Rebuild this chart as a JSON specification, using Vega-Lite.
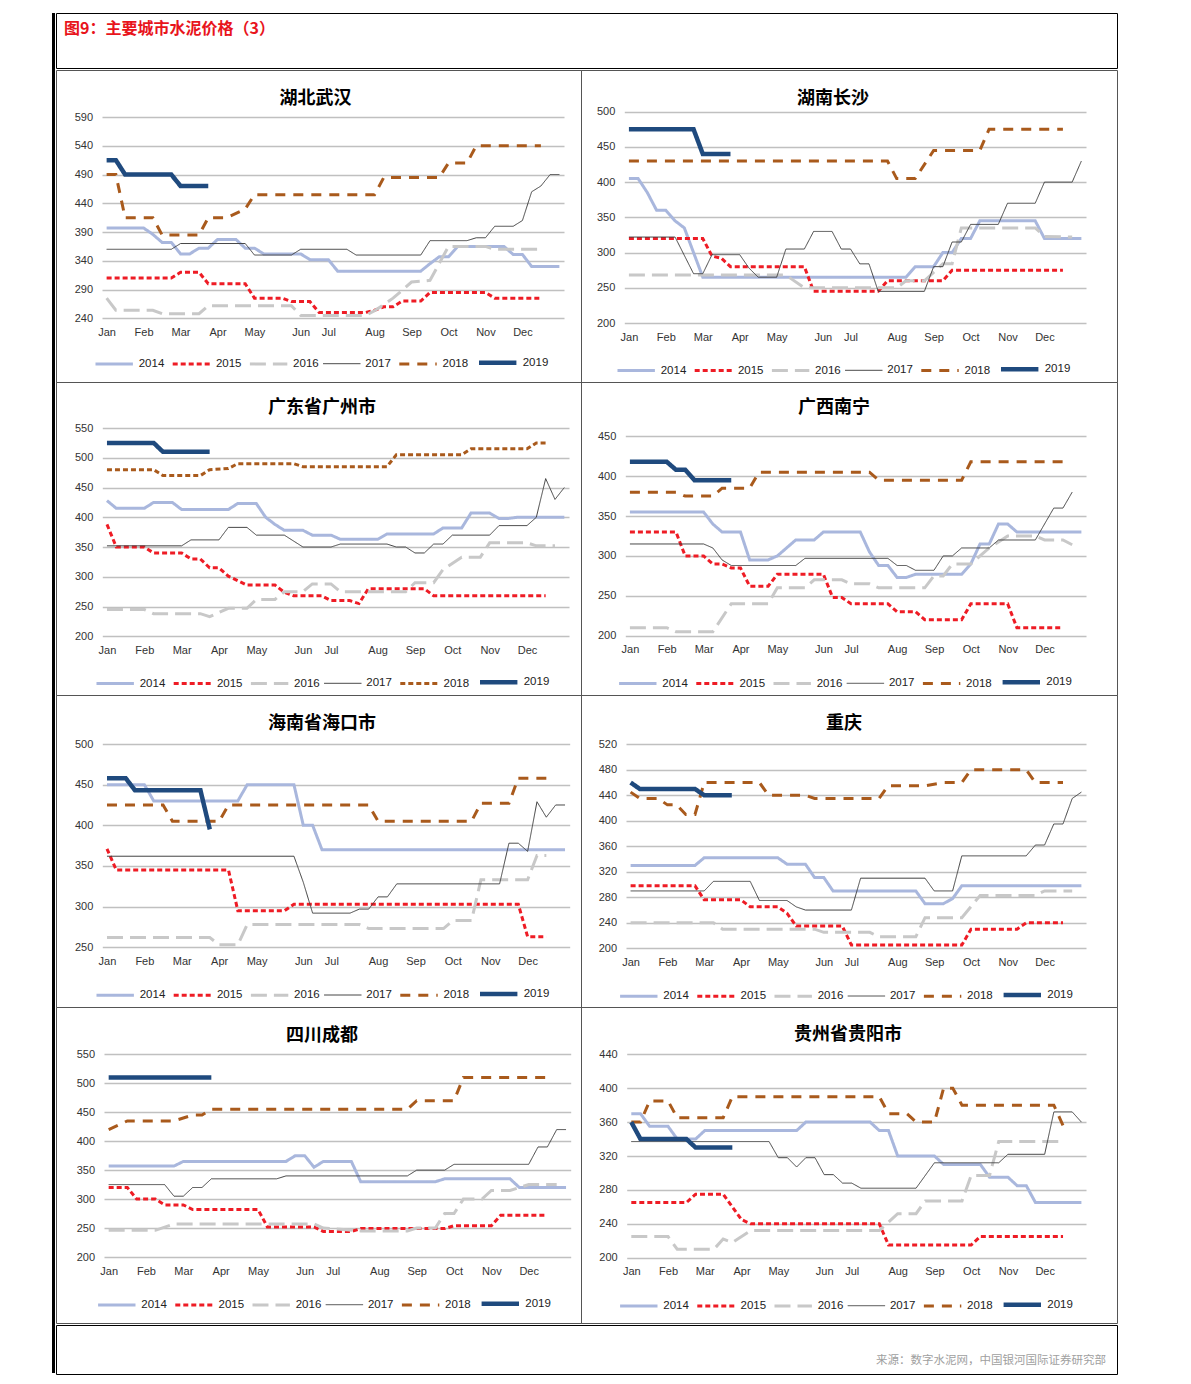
{
  "$schema": "https://vega.github.io/schema/vega-lite/v6.json",
  "padding": {"left": 52, "top": 12, "right": 0, "bottom": 0},
  "background": "#ffffff",
  "config": {
    "view": {"stroke": "#555555", "strokeWidth": 1},
    "concat": {"spacing": 0},
    "axis": {"labelFont": "Liberation Sans", "labelFontSize": 11, "labelColor": "#333333", "ticks": false, "tickSize": 0, "domain": false, "gridColor": "#C0C0C0", "gridWidth": 1.3},
    "legend": {"labelFont": "Liberation Sans", "labelFontSize": 11.5, "labelColor": "#222222", "symbolType": "stroke", "symbolSize": 1400, "columnPadding": 1.2, "labelOffset": 4, "direction": "horizontal", "orient": "none"},
    "title": {"font": "Noto Sans CJK SC", "fontSize": 18, "fontWeight": "bold", "color": "#000000", "anchor": "middle", "baseline": "middle"},
    "line": {"strokeCap": "butt"}
  },
  "datasets": {
    "prices": [
      {"city":"wh","year":"2014","wk":0,"price":397},{"city":"wh","year":"2014","wk":4,"price":397},{"city":"wh","year":"2014","wk":5,"price":386},{"city":"wh","year":"2014","wk":6,"price":372},{"city":"wh","year":"2014","wk":7,"price":372},{"city":"wh","year":"2014","wk":8,"price":352},{"city":"wh","year":"2014","wk":9,"price":352},{"city":"wh","year":"2014","wk":10,"price":362},{"city":"wh","year":"2014","wk":11,"price":362},{"city":"wh","year":"2014","wk":12,"price":377},{"city":"wh","year":"2014","wk":14,"price":377},{"city":"wh","year":"2014","wk":15,"price":362},{"city":"wh","year":"2014","wk":16,"price":362},{"city":"wh","year":"2014","wk":17,"price":352},{"city":"wh","year":"2014","wk":21,"price":352},{"city":"wh","year":"2014","wk":22,"price":342},{"city":"wh","year":"2014","wk":24,"price":342},{"city":"wh","year":"2014","wk":25,"price":322},{"city":"wh","year":"2014","wk":34,"price":322},{"city":"wh","year":"2014","wk":35,"price":335},{"city":"wh","year":"2014","wk":36,"price":347},{"city":"wh","year":"2014","wk":37,"price":347},{"city":"wh","year":"2014","wk":38,"price":365},{"city":"wh","year":"2014","wk":43,"price":365},{"city":"wh","year":"2014","wk":44,"price":351},{"city":"wh","year":"2014","wk":45,"price":351},{"city":"wh","year":"2014","wk":46,"price":330},{"city":"wh","year":"2014","wk":49,"price":330},
      {"city":"wh","year":"2015","wk":0,"price":310},{"city":"wh","year":"2015","wk":7,"price":310},{"city":"wh","year":"2015","wk":8,"price":320},{"city":"wh","year":"2015","wk":10,"price":320},{"city":"wh","year":"2015","wk":11,"price":300},{"city":"wh","year":"2015","wk":15,"price":300},{"city":"wh","year":"2015","wk":16,"price":275},{"city":"wh","year":"2015","wk":19,"price":275},{"city":"wh","year":"2015","wk":20,"price":269},{"city":"wh","year":"2015","wk":22,"price":269},{"city":"wh","year":"2015","wk":23,"price":250},{"city":"wh","year":"2015","wk":28,"price":250},{"city":"wh","year":"2015","wk":29,"price":254},{"city":"wh","year":"2015","wk":30,"price":260},{"city":"wh","year":"2015","wk":31,"price":260},{"city":"wh","year":"2015","wk":32,"price":270},{"city":"wh","year":"2015","wk":34,"price":270},{"city":"wh","year":"2015","wk":35,"price":285},{"city":"wh","year":"2015","wk":41,"price":285},{"city":"wh","year":"2015","wk":42,"price":275},{"city":"wh","year":"2015","wk":47,"price":275},
      {"city":"wh","year":"2016","wk":0,"price":275},{"city":"wh","year":"2016","wk":1,"price":254},{"city":"wh","year":"2016","wk":5,"price":254},{"city":"wh","year":"2016","wk":6,"price":248},{"city":"wh","year":"2016","wk":10,"price":248},{"city":"wh","year":"2016","wk":11,"price":262},{"city":"wh","year":"2016","wk":20,"price":262},{"city":"wh","year":"2016","wk":21,"price":245},{"city":"wh","year":"2016","wk":28,"price":245},{"city":"wh","year":"2016","wk":29,"price":253},{"city":"wh","year":"2016","wk":30,"price":264},{"city":"wh","year":"2016","wk":31,"price":275},{"city":"wh","year":"2016","wk":33,"price":303},{"city":"wh","year":"2016","wk":35,"price":306},{"city":"wh","year":"2016","wk":37,"price":365},{"city":"wh","year":"2016","wk":41,"price":365},{"city":"wh","year":"2016","wk":42,"price":360},{"city":"wh","year":"2016","wk":47,"price":360},
      {"city":"wh","year":"2017","wk":0,"price":360},{"city":"wh","year":"2017","wk":7,"price":360},{"city":"wh","year":"2017","wk":8,"price":370},{"city":"wh","year":"2017","wk":15,"price":370},{"city":"wh","year":"2017","wk":16,"price":350},{"city":"wh","year":"2017","wk":20,"price":350},{"city":"wh","year":"2017","wk":21,"price":360},{"city":"wh","year":"2017","wk":26,"price":360},{"city":"wh","year":"2017","wk":27,"price":350},{"city":"wh","year":"2017","wk":34,"price":350},{"city":"wh","year":"2017","wk":35,"price":375},{"city":"wh","year":"2017","wk":39,"price":375},{"city":"wh","year":"2017","wk":40,"price":380},{"city":"wh","year":"2017","wk":41,"price":380},{"city":"wh","year":"2017","wk":42,"price":400},{"city":"wh","year":"2017","wk":44,"price":400},{"city":"wh","year":"2017","wk":45,"price":410},{"city":"wh","year":"2017","wk":46,"price":460},{"city":"wh","year":"2017","wk":47,"price":470},{"city":"wh","year":"2017","wk":48,"price":490},{"city":"wh","year":"2017","wk":49,"price":490},
      {"city":"wh","year":"2018","wk":0,"price":490},{"city":"wh","year":"2018","wk":1,"price":490},{"city":"wh","year":"2018","wk":2,"price":415},{"city":"wh","year":"2018","wk":5,"price":415},{"city":"wh","year":"2018","wk":6,"price":385},{"city":"wh","year":"2018","wk":10,"price":385},{"city":"wh","year":"2018","wk":11,"price":415},{"city":"wh","year":"2018","wk":13,"price":415},{"city":"wh","year":"2018","wk":15,"price":430},{"city":"wh","year":"2018","wk":16,"price":455},{"city":"wh","year":"2018","wk":29,"price":455},{"city":"wh","year":"2018","wk":30,"price":485},{"city":"wh","year":"2018","wk":36,"price":485},{"city":"wh","year":"2018","wk":37,"price":510},{"city":"wh","year":"2018","wk":39,"price":510},{"city":"wh","year":"2018","wk":40,"price":540},{"city":"wh","year":"2018","wk":47,"price":540},
      {"city":"wh","year":"2019","wk":0,"price":515},{"city":"wh","year":"2019","wk":1,"price":515},{"city":"wh","year":"2019","wk":2,"price":490},{"city":"wh","year":"2019","wk":7,"price":490},{"city":"wh","year":"2019","wk":8,"price":470},{"city":"wh","year":"2019","wk":11,"price":470},

      {"city":"cs","year":"2014","wk":0,"price":405},{"city":"cs","year":"2014","wk":1,"price":405},{"city":"cs","year":"2014","wk":2,"price":385},{"city":"cs","year":"2014","wk":3,"price":360},{"city":"cs","year":"2014","wk":4,"price":360},{"city":"cs","year":"2014","wk":5,"price":345},{"city":"cs","year":"2014","wk":6,"price":335},{"city":"cs","year":"2014","wk":7,"price":300},{"city":"cs","year":"2014","wk":8,"price":265},{"city":"cs","year":"2014","wk":30,"price":265},{"city":"cs","year":"2014","wk":31,"price":280},{"city":"cs","year":"2014","wk":33,"price":280},{"city":"cs","year":"2014","wk":34,"price":300},{"city":"cs","year":"2014","wk":35,"price":300},{"city":"cs","year":"2014","wk":36,"price":320},{"city":"cs","year":"2014","wk":37,"price":320},{"city":"cs","year":"2014","wk":38,"price":345},{"city":"cs","year":"2014","wk":44,"price":345},{"city":"cs","year":"2014","wk":45,"price":320},{"city":"cs","year":"2014","wk":49,"price":320},
      {"city":"cs","year":"2015","wk":0,"price":320},{"city":"cs","year":"2015","wk":8,"price":320},{"city":"cs","year":"2015","wk":9,"price":295},{"city":"cs","year":"2015","wk":10,"price":292},{"city":"cs","year":"2015","wk":11,"price":280},{"city":"cs","year":"2015","wk":19,"price":280},{"city":"cs","year":"2015","wk":20,"price":245},{"city":"cs","year":"2015","wk":27,"price":245},{"city":"cs","year":"2015","wk":28,"price":260},{"city":"cs","year":"2015","wk":34,"price":260},{"city":"cs","year":"2015","wk":35,"price":275},{"city":"cs","year":"2015","wk":47,"price":275},
      {"city":"cs","year":"2016","wk":0,"price":268},{"city":"cs","year":"2016","wk":17,"price":268},{"city":"cs","year":"2016","wk":19,"price":250},{"city":"cs","year":"2016","wk":29,"price":250},{"city":"cs","year":"2016","wk":30,"price":260},{"city":"cs","year":"2016","wk":32,"price":260},{"city":"cs","year":"2016","wk":34,"price":284},{"city":"cs","year":"2016","wk":35,"price":284},{"city":"cs","year":"2016","wk":36,"price":335},{"city":"cs","year":"2016","wk":44,"price":335},{"city":"cs","year":"2016","wk":45,"price":323},{"city":"cs","year":"2016","wk":48,"price":322},
      {"city":"cs","year":"2017","wk":0,"price":322},{"city":"cs","year":"2017","wk":5,"price":322},{"city":"cs","year":"2017","wk":7,"price":270},{"city":"cs","year":"2017","wk":8,"price":270},{"city":"cs","year":"2017","wk":9,"price":297},{"city":"cs","year":"2017","wk":12,"price":297},{"city":"cs","year":"2017","wk":13,"price":278},{"city":"cs","year":"2017","wk":14,"price":265},{"city":"cs","year":"2017","wk":16,"price":265},{"city":"cs","year":"2017","wk":17,"price":305},{"city":"cs","year":"2017","wk":19,"price":305},{"city":"cs","year":"2017","wk":20,"price":330},{"city":"cs","year":"2017","wk":22,"price":330},{"city":"cs","year":"2017","wk":23,"price":305},{"city":"cs","year":"2017","wk":24,"price":305},{"city":"cs","year":"2017","wk":25,"price":284},{"city":"cs","year":"2017","wk":26,"price":284},{"city":"cs","year":"2017","wk":27,"price":245},{"city":"cs","year":"2017","wk":32,"price":245},{"city":"cs","year":"2017","wk":33,"price":280},{"city":"cs","year":"2017","wk":34,"price":280},{"city":"cs","year":"2017","wk":35,"price":315},{"city":"cs","year":"2017","wk":36,"price":315},{"city":"cs","year":"2017","wk":37,"price":340},{"city":"cs","year":"2017","wk":40,"price":340},{"city":"cs","year":"2017","wk":41,"price":370},{"city":"cs","year":"2017","wk":44,"price":370},{"city":"cs","year":"2017","wk":45,"price":400},{"city":"cs","year":"2017","wk":48,"price":400},{"city":"cs","year":"2017","wk":49,"price":430},
      {"city":"cs","year":"2018","wk":0,"price":430},{"city":"cs","year":"2018","wk":28,"price":430},{"city":"cs","year":"2018","wk":29,"price":405},{"city":"cs","year":"2018","wk":31,"price":405},{"city":"cs","year":"2018","wk":33,"price":445},{"city":"cs","year":"2018","wk":38,"price":445},{"city":"cs","year":"2018","wk":39,"price":475},{"city":"cs","year":"2018","wk":47,"price":475},
      {"city":"cs","year":"2019","wk":0,"price":475},{"city":"cs","year":"2019","wk":7,"price":475},{"city":"cs","year":"2019","wk":8,"price":440},{"city":"cs","year":"2019","wk":11,"price":440},

      {"city":"gz","year":"2014","wk":0,"price":428},{"city":"gz","year":"2014","wk":1,"price":415},{"city":"gz","year":"2014","wk":4,"price":415},{"city":"gz","year":"2014","wk":5,"price":425},{"city":"gz","year":"2014","wk":7,"price":425},{"city":"gz","year":"2014","wk":8,"price":413},{"city":"gz","year":"2014","wk":13,"price":413},{"city":"gz","year":"2014","wk":14,"price":423},{"city":"gz","year":"2014","wk":16,"price":423},{"city":"gz","year":"2014","wk":17,"price":400},{"city":"gz","year":"2014","wk":18,"price":388},{"city":"gz","year":"2014","wk":19,"price":378},{"city":"gz","year":"2014","wk":21,"price":378},{"city":"gz","year":"2014","wk":22,"price":370},{"city":"gz","year":"2014","wk":24,"price":370},{"city":"gz","year":"2014","wk":25,"price":363},{"city":"gz","year":"2014","wk":29,"price":363},{"city":"gz","year":"2014","wk":30,"price":372},{"city":"gz","year":"2014","wk":35,"price":372},{"city":"gz","year":"2014","wk":36,"price":382},{"city":"gz","year":"2014","wk":38,"price":382},{"city":"gz","year":"2014","wk":39,"price":407},{"city":"gz","year":"2014","wk":41,"price":407},{"city":"gz","year":"2014","wk":42,"price":398},{"city":"gz","year":"2014","wk":43,"price":398},{"city":"gz","year":"2014","wk":44,"price":400},{"city":"gz","year":"2014","wk":49,"price":400},
      {"city":"gz","year":"2015","wk":0,"price":388},{"city":"gz","year":"2015","wk":1,"price":350},{"city":"gz","year":"2015","wk":4,"price":350},{"city":"gz","year":"2015","wk":5,"price":340},{"city":"gz","year":"2015","wk":8,"price":340},{"city":"gz","year":"2015","wk":9,"price":330},{"city":"gz","year":"2015","wk":10,"price":330},{"city":"gz","year":"2015","wk":11,"price":315},{"city":"gz","year":"2015","wk":12,"price":315},{"city":"gz","year":"2015","wk":13,"price":301},{"city":"gz","year":"2015","wk":15,"price":286},{"city":"gz","year":"2015","wk":18,"price":286},{"city":"gz","year":"2015","wk":19,"price":274},{"city":"gz","year":"2015","wk":20,"price":268},{"city":"gz","year":"2015","wk":23,"price":268},{"city":"gz","year":"2015","wk":24,"price":260},{"city":"gz","year":"2015","wk":26,"price":260},{"city":"gz","year":"2015","wk":27,"price":255},{"city":"gz","year":"2015","wk":28,"price":280},{"city":"gz","year":"2015","wk":34,"price":280},{"city":"gz","year":"2015","wk":35,"price":268},{"city":"gz","year":"2015","wk":47,"price":268},
      {"city":"gz","year":"2016","wk":0,"price":245},{"city":"gz","year":"2016","wk":4,"price":245},{"city":"gz","year":"2016","wk":5,"price":238},{"city":"gz","year":"2016","wk":10,"price":238},{"city":"gz","year":"2016","wk":11,"price":233},{"city":"gz","year":"2016","wk":13,"price":247},{"city":"gz","year":"2016","wk":15,"price":247},{"city":"gz","year":"2016","wk":16,"price":262},{"city":"gz","year":"2016","wk":18,"price":262},{"city":"gz","year":"2016","wk":19,"price":275},{"city":"gz","year":"2016","wk":21,"price":275},{"city":"gz","year":"2016","wk":22,"price":288},{"city":"gz","year":"2016","wk":24,"price":288},{"city":"gz","year":"2016","wk":25,"price":275},{"city":"gz","year":"2016","wk":32,"price":275},{"city":"gz","year":"2016","wk":33,"price":290},{"city":"gz","year":"2016","wk":35,"price":290},{"city":"gz","year":"2016","wk":36,"price":312},{"city":"gz","year":"2016","wk":38,"price":333},{"city":"gz","year":"2016","wk":40,"price":333},{"city":"gz","year":"2016","wk":41,"price":357},{"city":"gz","year":"2016","wk":45,"price":357},{"city":"gz","year":"2016","wk":46,"price":352},{"city":"gz","year":"2016","wk":48,"price":352},
      {"city":"gz","year":"2017","wk":0,"price":352},{"city":"gz","year":"2017","wk":8,"price":352},{"city":"gz","year":"2017","wk":9,"price":362},{"city":"gz","year":"2017","wk":12,"price":362},{"city":"gz","year":"2017","wk":13,"price":383},{"city":"gz","year":"2017","wk":15,"price":383},{"city":"gz","year":"2017","wk":16,"price":370},{"city":"gz","year":"2017","wk":19,"price":370},{"city":"gz","year":"2017","wk":21,"price":350},{"city":"gz","year":"2017","wk":24,"price":350},{"city":"gz","year":"2017","wk":25,"price":355},{"city":"gz","year":"2017","wk":30,"price":355},{"city":"gz","year":"2017","wk":31,"price":350},{"city":"gz","year":"2017","wk":32,"price":350},{"city":"gz","year":"2017","wk":33,"price":340},{"city":"gz","year":"2017","wk":34,"price":340},{"city":"gz","year":"2017","wk":35,"price":355},{"city":"gz","year":"2017","wk":36,"price":355},{"city":"gz","year":"2017","wk":37,"price":370},{"city":"gz","year":"2017","wk":41,"price":370},{"city":"gz","year":"2017","wk":42,"price":386},{"city":"gz","year":"2017","wk":45,"price":386},{"city":"gz","year":"2017","wk":46,"price":400},{"city":"gz","year":"2017","wk":47,"price":465},{"city":"gz","year":"2017","wk":48,"price":430},{"city":"gz","year":"2017","wk":49,"price":450},
      {"city":"gz","year":"2018","wk":0,"price":480},{"city":"gz","year":"2018","wk":5,"price":480},{"city":"gz","year":"2018","wk":6,"price":470},{"city":"gz","year":"2018","wk":10,"price":470},{"city":"gz","year":"2018","wk":11,"price":480},{"city":"gz","year":"2018","wk":13,"price":482},{"city":"gz","year":"2018","wk":14,"price":490},{"city":"gz","year":"2018","wk":20,"price":490},{"city":"gz","year":"2018","wk":21,"price":485},{"city":"gz","year":"2018","wk":30,"price":485},{"city":"gz","year":"2018","wk":31,"price":505},{"city":"gz","year":"2018","wk":38,"price":505},{"city":"gz","year":"2018","wk":39,"price":515},{"city":"gz","year":"2018","wk":45,"price":515},{"city":"gz","year":"2018","wk":46,"price":525},{"city":"gz","year":"2018","wk":47,"price":525},
      {"city":"gz","year":"2019","wk":0,"price":525},{"city":"gz","year":"2019","wk":5,"price":525},{"city":"gz","year":"2019","wk":6,"price":510},{"city":"gz","year":"2019","wk":11,"price":510},

      {"city":"nn","year":"2014","wk":0,"price":355},{"city":"nn","year":"2014","wk":8,"price":355},{"city":"nn","year":"2014","wk":9,"price":340},{"city":"nn","year":"2014","wk":10,"price":330},{"city":"nn","year":"2014","wk":12,"price":330},{"city":"nn","year":"2014","wk":13,"price":295},{"city":"nn","year":"2014","wk":15,"price":295},{"city":"nn","year":"2014","wk":16,"price":300},{"city":"nn","year":"2014","wk":17,"price":310},{"city":"nn","year":"2014","wk":18,"price":320},{"city":"nn","year":"2014","wk":20,"price":320},{"city":"nn","year":"2014","wk":21,"price":330},{"city":"nn","year":"2014","wk":25,"price":330},{"city":"nn","year":"2014","wk":26,"price":305},{"city":"nn","year":"2014","wk":27,"price":288},{"city":"nn","year":"2014","wk":28,"price":288},{"city":"nn","year":"2014","wk":29,"price":273},{"city":"nn","year":"2014","wk":30,"price":273},{"city":"nn","year":"2014","wk":31,"price":277},{"city":"nn","year":"2014","wk":36,"price":277},{"city":"nn","year":"2014","wk":37,"price":290},{"city":"nn","year":"2014","wk":38,"price":315},{"city":"nn","year":"2014","wk":39,"price":315},{"city":"nn","year":"2014","wk":40,"price":340},{"city":"nn","year":"2014","wk":41,"price":340},{"city":"nn","year":"2014","wk":42,"price":330},{"city":"nn","year":"2014","wk":49,"price":330},
      {"city":"nn","year":"2015","wk":0,"price":330},{"city":"nn","year":"2015","wk":5,"price":330},{"city":"nn","year":"2015","wk":6,"price":300},{"city":"nn","year":"2015","wk":8,"price":300},{"city":"nn","year":"2015","wk":9,"price":290},{"city":"nn","year":"2015","wk":10,"price":290},{"city":"nn","year":"2015","wk":11,"price":285},{"city":"nn","year":"2015","wk":12,"price":285},{"city":"nn","year":"2015","wk":13,"price":262},{"city":"nn","year":"2015","wk":15,"price":262},{"city":"nn","year":"2015","wk":16,"price":277},{"city":"nn","year":"2015","wk":21,"price":277},{"city":"nn","year":"2015","wk":22,"price":248},{"city":"nn","year":"2015","wk":23,"price":248},{"city":"nn","year":"2015","wk":24,"price":240},{"city":"nn","year":"2015","wk":28,"price":240},{"city":"nn","year":"2015","wk":29,"price":230},{"city":"nn","year":"2015","wk":31,"price":230},{"city":"nn","year":"2015","wk":32,"price":220},{"city":"nn","year":"2015","wk":36,"price":220},{"city":"nn","year":"2015","wk":37,"price":240},{"city":"nn","year":"2015","wk":41,"price":240},{"city":"nn","year":"2015","wk":42,"price":210},{"city":"nn","year":"2015","wk":47,"price":210},
      {"city":"nn","year":"2016","wk":0,"price":210},{"city":"nn","year":"2016","wk":4,"price":210},{"city":"nn","year":"2016","wk":5,"price":205},{"city":"nn","year":"2016","wk":9,"price":205},{"city":"nn","year":"2016","wk":11,"price":240},{"city":"nn","year":"2016","wk":15,"price":240},{"city":"nn","year":"2016","wk":16,"price":260},{"city":"nn","year":"2016","wk":19,"price":260},{"city":"nn","year":"2016","wk":20,"price":270},{"city":"nn","year":"2016","wk":23,"price":270},{"city":"nn","year":"2016","wk":24,"price":265},{"city":"nn","year":"2016","wk":26,"price":265},{"city":"nn","year":"2016","wk":27,"price":260},{"city":"nn","year":"2016","wk":32,"price":260},{"city":"nn","year":"2016","wk":33,"price":275},{"city":"nn","year":"2016","wk":34,"price":275},{"city":"nn","year":"2016","wk":35,"price":290},{"city":"nn","year":"2016","wk":37,"price":290},{"city":"nn","year":"2016","wk":38,"price":300},{"city":"nn","year":"2016","wk":39,"price":310},{"city":"nn","year":"2016","wk":41,"price":325},{"city":"nn","year":"2016","wk":44,"price":325},{"city":"nn","year":"2016","wk":45,"price":320},{"city":"nn","year":"2016","wk":47,"price":320},{"city":"nn","year":"2016","wk":48,"price":314},
      {"city":"nn","year":"2017","wk":0,"price":315},{"city":"nn","year":"2017","wk":8,"price":315},{"city":"nn","year":"2017","wk":9,"price":310},{"city":"nn","year":"2017","wk":10,"price":295},{"city":"nn","year":"2017","wk":11,"price":288},{"city":"nn","year":"2017","wk":18,"price":288},{"city":"nn","year":"2017","wk":19,"price":297},{"city":"nn","year":"2017","wk":28,"price":297},{"city":"nn","year":"2017","wk":29,"price":288},{"city":"nn","year":"2017","wk":30,"price":288},{"city":"nn","year":"2017","wk":31,"price":282},{"city":"nn","year":"2017","wk":33,"price":282},{"city":"nn","year":"2017","wk":34,"price":300},{"city":"nn","year":"2017","wk":35,"price":300},{"city":"nn","year":"2017","wk":36,"price":310},{"city":"nn","year":"2017","wk":39,"price":310},{"city":"nn","year":"2017","wk":40,"price":320},{"city":"nn","year":"2017","wk":44,"price":320},{"city":"nn","year":"2017","wk":46,"price":360},{"city":"nn","year":"2017","wk":47,"price":360},{"city":"nn","year":"2017","wk":48,"price":380},
      {"city":"nn","year":"2018","wk":0,"price":380},{"city":"nn","year":"2018","wk":5,"price":380},{"city":"nn","year":"2018","wk":6,"price":375},{"city":"nn","year":"2018","wk":9,"price":375},{"city":"nn","year":"2018","wk":10,"price":385},{"city":"nn","year":"2018","wk":13,"price":385},{"city":"nn","year":"2018","wk":14,"price":405},{"city":"nn","year":"2018","wk":26,"price":405},{"city":"nn","year":"2018","wk":27,"price":395},{"city":"nn","year":"2018","wk":36,"price":395},{"city":"nn","year":"2018","wk":37,"price":418},{"city":"nn","year":"2018","wk":47,"price":418},
      {"city":"nn","year":"2019","wk":0,"price":418},{"city":"nn","year":"2019","wk":4,"price":418},{"city":"nn","year":"2019","wk":5,"price":408},{"city":"nn","year":"2019","wk":6,"price":408},{"city":"nn","year":"2019","wk":7,"price":395},{"city":"nn","year":"2019","wk":11,"price":395},

      {"city":"hk","year":"2014","wk":0,"price":450},{"city":"hk","year":"2014","wk":4,"price":450},{"city":"hk","year":"2014","wk":5,"price":430},{"city":"hk","year":"2014","wk":14,"price":430},{"city":"hk","year":"2014","wk":15,"price":450},{"city":"hk","year":"2014","wk":20,"price":450},{"city":"hk","year":"2014","wk":21,"price":400},{"city":"hk","year":"2014","wk":22,"price":400},{"city":"hk","year":"2014","wk":23,"price":370},{"city":"hk","year":"2014","wk":49,"price":370},
      {"city":"hk","year":"2015","wk":0,"price":371},{"city":"hk","year":"2015","wk":1,"price":345},{"city":"hk","year":"2015","wk":13,"price":345},{"city":"hk","year":"2015","wk":14,"price":295},{"city":"hk","year":"2015","wk":19,"price":295},{"city":"hk","year":"2015","wk":20,"price":303},{"city":"hk","year":"2015","wk":44,"price":303},{"city":"hk","year":"2015","wk":45,"price":263},{"city":"hk","year":"2015","wk":47,"price":263},
      {"city":"hk","year":"2016","wk":0,"price":262},{"city":"hk","year":"2016","wk":11,"price":262},{"city":"hk","year":"2016","wk":12,"price":253},{"city":"hk","year":"2016","wk":14,"price":253},{"city":"hk","year":"2016","wk":15,"price":278},{"city":"hk","year":"2016","wk":27,"price":278},{"city":"hk","year":"2016","wk":28,"price":273},{"city":"hk","year":"2016","wk":36,"price":273},{"city":"hk","year":"2016","wk":37,"price":283},{"city":"hk","year":"2016","wk":39,"price":283},{"city":"hk","year":"2016","wk":40,"price":333},{"city":"hk","year":"2016","wk":45,"price":333},{"city":"hk","year":"2016","wk":46,"price":363},{"city":"hk","year":"2016","wk":47,"price":363},
      {"city":"hk","year":"2017","wk":0,"price":362},{"city":"hk","year":"2017","wk":20,"price":362},{"city":"hk","year":"2017","wk":21,"price":330},{"city":"hk","year":"2017","wk":22,"price":292},{"city":"hk","year":"2017","wk":26,"price":292},{"city":"hk","year":"2017","wk":27,"price":297},{"city":"hk","year":"2017","wk":28,"price":297},{"city":"hk","year":"2017","wk":29,"price":312},{"city":"hk","year":"2017","wk":30,"price":312},{"city":"hk","year":"2017","wk":31,"price":328},{"city":"hk","year":"2017","wk":42,"price":328},{"city":"hk","year":"2017","wk":43,"price":378},{"city":"hk","year":"2017","wk":44,"price":378},{"city":"hk","year":"2017","wk":45,"price":368},{"city":"hk","year":"2017","wk":46,"price":429},{"city":"hk","year":"2017","wk":47,"price":410},{"city":"hk","year":"2017","wk":48,"price":425},{"city":"hk","year":"2017","wk":49,"price":425},
      {"city":"hk","year":"2018","wk":0,"price":425},{"city":"hk","year":"2018","wk":6,"price":425},{"city":"hk","year":"2018","wk":7,"price":405},{"city":"hk","year":"2018","wk":12,"price":405},{"city":"hk","year":"2018","wk":13,"price":425},{"city":"hk","year":"2018","wk":28,"price":425},{"city":"hk","year":"2018","wk":29,"price":405},{"city":"hk","year":"2018","wk":39,"price":405},{"city":"hk","year":"2018","wk":40,"price":427},{"city":"hk","year":"2018","wk":43,"price":427},{"city":"hk","year":"2018","wk":44,"price":458},{"city":"hk","year":"2018","wk":47,"price":458},
      {"city":"hk","year":"2019","wk":0,"price":458},{"city":"hk","year":"2019","wk":2,"price":458},{"city":"hk","year":"2019","wk":3,"price":443},{"city":"hk","year":"2019","wk":10,"price":443},{"city":"hk","year":"2019","wk":11,"price":395},

      {"city":"cq","year":"2014","wk":0,"price":330},{"city":"cq","year":"2014","wk":7,"price":330},{"city":"cq","year":"2014","wk":8,"price":342},{"city":"cq","year":"2014","wk":16,"price":342},{"city":"cq","year":"2014","wk":17,"price":332},{"city":"cq","year":"2014","wk":19,"price":332},{"city":"cq","year":"2014","wk":20,"price":311},{"city":"cq","year":"2014","wk":21,"price":311},{"city":"cq","year":"2014","wk":22,"price":290},{"city":"cq","year":"2014","wk":31,"price":290},{"city":"cq","year":"2014","wk":32,"price":270},{"city":"cq","year":"2014","wk":34,"price":270},{"city":"cq","year":"2014","wk":35,"price":278},{"city":"cq","year":"2014","wk":36,"price":298},{"city":"cq","year":"2014","wk":49,"price":298},
      {"city":"cq","year":"2015","wk":0,"price":298},{"city":"cq","year":"2015","wk":7,"price":298},{"city":"cq","year":"2015","wk":8,"price":276},{"city":"cq","year":"2015","wk":12,"price":276},{"city":"cq","year":"2015","wk":13,"price":265},{"city":"cq","year":"2015","wk":16,"price":265},{"city":"cq","year":"2015","wk":17,"price":255},{"city":"cq","year":"2015","wk":18,"price":235},{"city":"cq","year":"2015","wk":23,"price":235},{"city":"cq","year":"2015","wk":24,"price":205},{"city":"cq","year":"2015","wk":36,"price":205},{"city":"cq","year":"2015","wk":37,"price":230},{"city":"cq","year":"2015","wk":42,"price":230},{"city":"cq","year":"2015","wk":43,"price":240},{"city":"cq","year":"2015","wk":47,"price":240},
      {"city":"cq","year":"2016","wk":0,"price":240},{"city":"cq","year":"2016","wk":9,"price":240},{"city":"cq","year":"2016","wk":10,"price":230},{"city":"cq","year":"2016","wk":20,"price":230},{"city":"cq","year":"2016","wk":21,"price":225},{"city":"cq","year":"2016","wk":26,"price":225},{"city":"cq","year":"2016","wk":27,"price":218},{"city":"cq","year":"2016","wk":31,"price":218},{"city":"cq","year":"2016","wk":32,"price":248},{"city":"cq","year":"2016","wk":36,"price":248},{"city":"cq","year":"2016","wk":38,"price":283},{"city":"cq","year":"2016","wk":44,"price":283},{"city":"cq","year":"2016","wk":45,"price":290},{"city":"cq","year":"2016","wk":48,"price":290},
      {"city":"cq","year":"2017","wk":0,"price":290},{"city":"cq","year":"2017","wk":8,"price":290},{"city":"cq","year":"2017","wk":9,"price":305},{"city":"cq","year":"2017","wk":13,"price":305},{"city":"cq","year":"2017","wk":14,"price":275},{"city":"cq","year":"2017","wk":17,"price":275},{"city":"cq","year":"2017","wk":18,"price":265},{"city":"cq","year":"2017","wk":19,"price":260},{"city":"cq","year":"2017","wk":24,"price":260},{"city":"cq","year":"2017","wk":25,"price":310},{"city":"cq","year":"2017","wk":32,"price":310},{"city":"cq","year":"2017","wk":33,"price":290},{"city":"cq","year":"2017","wk":35,"price":290},{"city":"cq","year":"2017","wk":36,"price":345},{"city":"cq","year":"2017","wk":43,"price":345},{"city":"cq","year":"2017","wk":44,"price":362},{"city":"cq","year":"2017","wk":45,"price":362},{"city":"cq","year":"2017","wk":46,"price":395},{"city":"cq","year":"2017","wk":47,"price":395},{"city":"cq","year":"2017","wk":48,"price":435},{"city":"cq","year":"2017","wk":49,"price":445},
      {"city":"cq","year":"2018","wk":0,"price":445},{"city":"cq","year":"2018","wk":1,"price":435},{"city":"cq","year":"2018","wk":3,"price":435},{"city":"cq","year":"2018","wk":4,"price":425},{"city":"cq","year":"2018","wk":5,"price":425},{"city":"cq","year":"2018","wk":6,"price":410},{"city":"cq","year":"2018","wk":7,"price":410},{"city":"cq","year":"2018","wk":8,"price":460},{"city":"cq","year":"2018","wk":14,"price":460},{"city":"cq","year":"2018","wk":15,"price":440},{"city":"cq","year":"2018","wk":19,"price":440},{"city":"cq","year":"2018","wk":20,"price":435},{"city":"cq","year":"2018","wk":27,"price":435},{"city":"cq","year":"2018","wk":28,"price":455},{"city":"cq","year":"2018","wk":32,"price":455},{"city":"cq","year":"2018","wk":34,"price":460},{"city":"cq","year":"2018","wk":36,"price":460},{"city":"cq","year":"2018","wk":37,"price":480},{"city":"cq","year":"2018","wk":43,"price":480},{"city":"cq","year":"2018","wk":44,"price":460},{"city":"cq","year":"2018","wk":47,"price":460},
      {"city":"cq","year":"2019","wk":0,"price":460},{"city":"cq","year":"2019","wk":1,"price":450},{"city":"cq","year":"2019","wk":7,"price":450},{"city":"cq","year":"2019","wk":8,"price":440},{"city":"cq","year":"2019","wk":11,"price":440},

      {"city":"cd","year":"2014","wk":0,"price":357},{"city":"cd","year":"2014","wk":7,"price":357},{"city":"cd","year":"2014","wk":8,"price":365},{"city":"cd","year":"2014","wk":19,"price":365},{"city":"cd","year":"2014","wk":20,"price":375},{"city":"cd","year":"2014","wk":21,"price":375},{"city":"cd","year":"2014","wk":22,"price":355},{"city":"cd","year":"2014","wk":23,"price":365},{"city":"cd","year":"2014","wk":26,"price":365},{"city":"cd","year":"2014","wk":27,"price":330},{"city":"cd","year":"2014","wk":35,"price":330},{"city":"cd","year":"2014","wk":36,"price":335},{"city":"cd","year":"2014","wk":43,"price":335},{"city":"cd","year":"2014","wk":44,"price":320},{"city":"cd","year":"2014","wk":49,"price":320},
      {"city":"cd","year":"2015","wk":0,"price":320},{"city":"cd","year":"2015","wk":2,"price":320},{"city":"cd","year":"2015","wk":3,"price":300},{"city":"cd","year":"2015","wk":5,"price":300},{"city":"cd","year":"2015","wk":6,"price":290},{"city":"cd","year":"2015","wk":8,"price":290},{"city":"cd","year":"2015","wk":9,"price":282},{"city":"cd","year":"2015","wk":16,"price":282},{"city":"cd","year":"2015","wk":17,"price":252},{"city":"cd","year":"2015","wk":22,"price":252},{"city":"cd","year":"2015","wk":23,"price":244},{"city":"cd","year":"2015","wk":26,"price":244},{"city":"cd","year":"2015","wk":27,"price":249},{"city":"cd","year":"2015","wk":36,"price":249},{"city":"cd","year":"2015","wk":37,"price":254},{"city":"cd","year":"2015","wk":41,"price":254},{"city":"cd","year":"2015","wk":42,"price":272},{"city":"cd","year":"2015","wk":47,"price":272},
      {"city":"cd","year":"2016","wk":0,"price":246},{"city":"cd","year":"2016","wk":5,"price":246},{"city":"cd","year":"2016","wk":7,"price":257},{"city":"cd","year":"2016","wk":22,"price":257},{"city":"cd","year":"2016","wk":23,"price":250},{"city":"cd","year":"2016","wk":27,"price":245},{"city":"cd","year":"2016","wk":32,"price":245},{"city":"cd","year":"2016","wk":33,"price":250},{"city":"cd","year":"2016","wk":35,"price":250},{"city":"cd","year":"2016","wk":36,"price":275},{"city":"cd","year":"2016","wk":37,"price":275},{"city":"cd","year":"2016","wk":38,"price":300},{"city":"cd","year":"2016","wk":40,"price":300},{"city":"cd","year":"2016","wk":41,"price":315},{"city":"cd","year":"2016","wk":43,"price":315},{"city":"cd","year":"2016","wk":45,"price":325},{"city":"cd","year":"2016","wk":48,"price":325},
      {"city":"cd","year":"2017","wk":0,"price":325},{"city":"cd","year":"2017","wk":6,"price":325},{"city":"cd","year":"2017","wk":7,"price":305},{"city":"cd","year":"2017","wk":8,"price":305},{"city":"cd","year":"2017","wk":9,"price":320},{"city":"cd","year":"2017","wk":10,"price":320},{"city":"cd","year":"2017","wk":11,"price":335},{"city":"cd","year":"2017","wk":18,"price":335},{"city":"cd","year":"2017","wk":19,"price":340},{"city":"cd","year":"2017","wk":32,"price":340},{"city":"cd","year":"2017","wk":33,"price":350},{"city":"cd","year":"2017","wk":36,"price":350},{"city":"cd","year":"2017","wk":37,"price":360},{"city":"cd","year":"2017","wk":45,"price":360},{"city":"cd","year":"2017","wk":46,"price":390},{"city":"cd","year":"2017","wk":47,"price":390},{"city":"cd","year":"2017","wk":48,"price":420},{"city":"cd","year":"2017","wk":49,"price":420},
      {"city":"cd","year":"2018","wk":0,"price":420},{"city":"cd","year":"2018","wk":2,"price":435},{"city":"cd","year":"2018","wk":7,"price":435},{"city":"cd","year":"2018","wk":9,"price":445},{"city":"cd","year":"2018","wk":10,"price":445},{"city":"cd","year":"2018","wk":11,"price":455},{"city":"cd","year":"2018","wk":32,"price":455},{"city":"cd","year":"2018","wk":33,"price":470},{"city":"cd","year":"2018","wk":37,"price":470},{"city":"cd","year":"2018","wk":38,"price":510},{"city":"cd","year":"2018","wk":47,"price":510},
      {"city":"cd","year":"2019","wk":0,"price":510},{"city":"cd","year":"2019","wk":11,"price":510},

      {"city":"gy","year":"2014","wk":0,"price":370},{"city":"gy","year":"2014","wk":1,"price":370},{"city":"gy","year":"2014","wk":2,"price":355},{"city":"gy","year":"2014","wk":4,"price":355},{"city":"gy","year":"2014","wk":5,"price":340},{"city":"gy","year":"2014","wk":7,"price":340},{"city":"gy","year":"2014","wk":8,"price":350},{"city":"gy","year":"2014","wk":18,"price":350},{"city":"gy","year":"2014","wk":19,"price":360},{"city":"gy","year":"2014","wk":26,"price":360},{"city":"gy","year":"2014","wk":27,"price":350},{"city":"gy","year":"2014","wk":28,"price":350},{"city":"gy","year":"2014","wk":29,"price":320},{"city":"gy","year":"2014","wk":33,"price":320},{"city":"gy","year":"2014","wk":34,"price":310},{"city":"gy","year":"2014","wk":38,"price":310},{"city":"gy","year":"2014","wk":39,"price":295},{"city":"gy","year":"2014","wk":41,"price":295},{"city":"gy","year":"2014","wk":42,"price":285},{"city":"gy","year":"2014","wk":43,"price":285},{"city":"gy","year":"2014","wk":44,"price":265},{"city":"gy","year":"2014","wk":49,"price":265},
      {"city":"gy","year":"2015","wk":0,"price":265},{"city":"gy","year":"2015","wk":6,"price":265},{"city":"gy","year":"2015","wk":7,"price":275},{"city":"gy","year":"2015","wk":10,"price":275},{"city":"gy","year":"2015","wk":12,"price":245},{"city":"gy","year":"2015","wk":13,"price":240},{"city":"gy","year":"2015","wk":27,"price":240},{"city":"gy","year":"2015","wk":28,"price":215},{"city":"gy","year":"2015","wk":37,"price":215},{"city":"gy","year":"2015","wk":38,"price":225},{"city":"gy","year":"2015","wk":47,"price":225},
      {"city":"gy","year":"2016","wk":0,"price":225},{"city":"gy","year":"2016","wk":4,"price":225},{"city":"gy","year":"2016","wk":5,"price":210},{"city":"gy","year":"2016","wk":9,"price":210},{"city":"gy","year":"2016","wk":10,"price":222},{"city":"gy","year":"2016","wk":11,"price":218},{"city":"gy","year":"2016","wk":13,"price":232},{"city":"gy","year":"2016","wk":27,"price":232},{"city":"gy","year":"2016","wk":29,"price":252},{"city":"gy","year":"2016","wk":31,"price":252},{"city":"gy","year":"2016","wk":32,"price":267},{"city":"gy","year":"2016","wk":36,"price":267},{"city":"gy","year":"2016","wk":37,"price":297},{"city":"gy","year":"2016","wk":39,"price":297},{"city":"gy","year":"2016","wk":40,"price":337},{"city":"gy","year":"2016","wk":47,"price":337},
      {"city":"gy","year":"2017","wk":0,"price":337},{"city":"gy","year":"2017","wk":15,"price":337},{"city":"gy","year":"2017","wk":16,"price":318},{"city":"gy","year":"2017","wk":17,"price":318},{"city":"gy","year":"2017","wk":18,"price":307},{"city":"gy","year":"2017","wk":19,"price":318},{"city":"gy","year":"2017","wk":20,"price":318},{"city":"gy","year":"2017","wk":21,"price":298},{"city":"gy","year":"2017","wk":22,"price":298},{"city":"gy","year":"2017","wk":23,"price":288},{"city":"gy","year":"2017","wk":24,"price":288},{"city":"gy","year":"2017","wk":25,"price":282},{"city":"gy","year":"2017","wk":31,"price":282},{"city":"gy","year":"2017","wk":33,"price":312},{"city":"gy","year":"2017","wk":40,"price":312},{"city":"gy","year":"2017","wk":41,"price":322},{"city":"gy","year":"2017","wk":45,"price":322},{"city":"gy","year":"2017","wk":46,"price":372},{"city":"gy","year":"2017","wk":48,"price":372},{"city":"gy","year":"2017","wk":49,"price":360},
      {"city":"gy","year":"2018","wk":0,"price":360},{"city":"gy","year":"2018","wk":1,"price":360},{"city":"gy","year":"2018","wk":2,"price":385},{"city":"gy","year":"2018","wk":4,"price":385},{"city":"gy","year":"2018","wk":5,"price":365},{"city":"gy","year":"2018","wk":10,"price":365},{"city":"gy","year":"2018","wk":11,"price":390},{"city":"gy","year":"2018","wk":27,"price":390},{"city":"gy","year":"2018","wk":28,"price":370},{"city":"gy","year":"2018","wk":30,"price":370},{"city":"gy","year":"2018","wk":31,"price":360},{"city":"gy","year":"2018","wk":33,"price":360},{"city":"gy","year":"2018","wk":34,"price":400},{"city":"gy","year":"2018","wk":35,"price":400},{"city":"gy","year":"2018","wk":36,"price":380},{"city":"gy","year":"2018","wk":46,"price":380},{"city":"gy","year":"2018","wk":47,"price":356},
      {"city":"gy","year":"2019","wk":0,"price":360},{"city":"gy","year":"2019","wk":1,"price":340},{"city":"gy","year":"2019","wk":6,"price":340},{"city":"gy","year":"2019","wk":7,"price":330},{"city":"gy","year":"2019","wk":11,"price":330}
    ]
  },
  "resolve": {"scale": {"color": "independent", "strokeDash": "independent", "strokeWidth": "independent"}, "legend": {"color": "independent", "strokeDash": "independent", "strokeWidth": "independent"}},
  "spacing": 0,
  "hconcat": [
    {
      "width": 3, "height": 1360,
      "view": {"fill": "#000000", "stroke": null},
      "data": {"values": [{}]},
      "mark": {"type": "text"},
      "encoding": {"text": {"value": ""}}
    },
    {
      "spacing": 0,
      "resolve": {"scale": {"color": "independent", "strokeDash": "independent", "strokeWidth": "independent"}, "legend": {"color": "independent", "strokeDash": "independent", "strokeWidth": "independent"}},
      "vconcat": [
        {
          "width": 1061, "height": 55,
          "view": {"stroke": "#000000"},
          "title": {"text": "图9：主要城市水泥价格（3）", "anchor": "start", "offset": -24, "dx": 8, "color": "#E8141C", "fontSize": 16, "fontWeight": "bold", "font": "Noto Sans CJK SC"},
          "data": {"values": [{}]},
          "mark": {"type": "text"},
          "encoding": {"text": {"value": ""}}
        },
        {
          "columns": 2,
          "spacing": 0,
          "bounds": "flush",
          "align": "each",
          "resolve": {"scale": {"color": "independent", "strokeDash": "independent", "strokeWidth": "independent"}, "legend": {"color": "independent", "strokeDash": "independent", "strokeWidth": "independent"}},
          "concat": [
            {
              "width": 525, "height": 312,
              "title": {"text": "湖北武汉", "offset": -38, "dx": -3},
              "data": {"name": "prices"},
              "transform": [{"filter": "datum.city === 'wh'"}],
              "mark": {"type": "line"},
              "encoding": {
                "x": {"field": "wk", "type": "quantitative", "scale": {"domain": [-0.5, 49.5], "range": [46, 508], "nice": false, "zero": false}, "axis": {"title": null, "grid": false, "offset": -63.7, "labelPadding": 8, "values": [0,4,8,12,16,21,24,29,33,37,41,45], "labelExpr": "['Jan','Feb','Mar','Apr','May','Jun','Jul','Aug','Sep','Oct','Nov','Dec'][indexof([0,4,8,12,16,21,24,29,33,37,41,45], datum.value)]"}},
                "y": {"field": "price", "type": "quantitative", "scale": {"domain": [240, 590], "range": [248.3, 47], "nice": false, "zero": false}, "axis": {"title": null, "grid": true, "offset": -46, "labelPadding": 9.5, "values": [240,290,340,390,440,490,540,590]}},
                "color": {"field": "year", "type": "nominal", "scale": {"domain": ["2014","2015","2016","2017","2018","2019"], "range": ["#A9B7DD","#EE1C25","#C8C8C8","#404040","#A95A1C","#1F4A7E"]}, "legend": {"title": null, "orient": "none", "direction": "horizontal", "legendX": 37.7, "legendY": 271.7}},
                "strokeDash": {"field": "year", "type": "nominal", "scale": {"domain": ["2014","2015","2016","2017","2018","2019"], "range": [[1,0],[5,3],[16,7],[1,0],[10,8],[1,0]]}},
                "strokeWidth": {"field": "year", "type": "nominal", "scale": {"type": "ordinal", "domain": ["2014","2015","2016","2017","2018","2019"], "range": [3,3,3,1,3,4.5]}}
              }
            },
            {
              "width": 536, "height": 312,
              "title": {"text": "湖南长沙", "offset": -37.7, "dx": -16},
              "data": {"name": "prices"},
              "transform": [{"filter": "datum.city === 'cs'"}],
              "mark": {"type": "line"},
              "encoding": {
                "x": {"field": "wk", "type": "quantitative", "scale": {"domain": [-0.5, 49.5], "range": [43.3, 505], "nice": false, "zero": false}, "axis": {"title": null, "grid": false, "offset": -59, "labelPadding": 8, "values": [0,4,8,12,16,21,24,29,33,37,41,45], "labelExpr": "['Jan','Feb','Mar','Apr','May','Jun','Jul','Aug','Sep','Oct','Nov','Dec'][indexof([0,4,8,12,16,21,24,29,33,37,41,45], datum.value)]"}},
                "y": {"field": "price", "type": "quantitative", "scale": {"domain": [200, 500], "range": [253, 41.7], "nice": false, "zero": false}, "axis": {"title": null, "grid": true, "offset": -43.3, "labelPadding": 9.5, "values": [200,250,300,350,400,450,500]}},
                "color": {"field": "year", "type": "nominal", "scale": {"domain": ["2014","2015","2016","2017","2018","2019"], "range": ["#A9B7DD","#EE1C25","#C8C8C8","#404040","#A95A1C","#1F4A7E"]}, "legend": {"title": null, "orient": "none", "direction": "horizontal", "legendX": 34.7, "legendY": 278.3}},
                "strokeDash": {"field": "year", "type": "nominal", "scale": {"domain": ["2014","2015","2016","2017","2018","2019"], "range": [[1,0],[5,3],[16,7],[1,0],[10,8],[1,0]]}},
                "strokeWidth": {"field": "year", "type": "nominal", "scale": {"type": "ordinal", "domain": ["2014","2015","2016","2017","2018","2019"], "range": [3,3,3,1,3,4.5]}}
              }
            },
            {
              "width": 525, "height": 313,
              "title": {"text": "广东省广州市", "offset": -35.3, "dx": 3.5},
              "data": {"name": "prices"},
              "transform": [{"filter": "datum.city === 'gz'"}],
              "mark": {"type": "line"},
              "encoding": {
                "x": {"field": "wk", "type": "quantitative", "scale": {"domain": [-0.5, 49.5], "range": [46.3, 513], "nice": false, "zero": false}, "axis": {"title": null, "grid": false, "offset": -58.7, "labelPadding": 8, "values": [0,4,8,12,16,21,24,29,33,37,41,45], "labelExpr": "['Jan','Feb','Mar','Apr','May','Jun','Jul','Aug','Sep','Oct','Nov','Dec'][indexof([0,4,8,12,16,21,24,29,33,37,41,45], datum.value)]"}},
                "y": {"field": "price", "type": "quantitative", "scale": {"domain": [200, 550], "range": [254.3, 46], "nice": false, "zero": false}, "axis": {"title": null, "grid": true, "offset": -46.3, "labelPadding": 9.5, "values": [200,250,300,350,400,450,500,550]}},
                "color": {"field": "year", "type": "nominal", "scale": {"domain": ["2014","2015","2016","2017","2018","2019"], "range": ["#A9B7DD","#EE1C25","#C8C8C8","#404040","#A95A1C","#1F4A7E"]}, "legend": {"title": null, "orient": "none", "direction": "horizontal", "legendX": 38.7, "legendY": 279.3}},
                "strokeDash": {"field": "year", "type": "nominal", "scale": {"domain": ["2014","2015","2016","2017","2018","2019"], "range": [[1,0],[5,3],[16,7],[1,0],[5,3],[1,0]]}},
                "strokeWidth": {"field": "year", "type": "nominal", "scale": {"type": "ordinal", "domain": ["2014","2015","2016","2017","2018","2019"], "range": [3,3,3,1,3,4.5]}}
              }
            },
            {
              "width": 536, "height": 313,
              "title": {"text": "广西南宁", "offset": -35.3, "dx": -15},
              "data": {"name": "prices"},
              "transform": [{"filter": "datum.city === 'nn'"}],
              "mark": {"type": "line"},
              "encoding": {
                "x": {"field": "wk", "type": "quantitative", "scale": {"domain": [-0.5, 49.5], "range": [44.3, 505], "nice": false, "zero": false}, "axis": {"title": null, "grid": false, "offset": -59.3, "labelPadding": 8, "values": [0,4,8,12,16,21,24,29,33,37,41,45], "labelExpr": "['Jan','Feb','Mar','Apr','May','Jun','Jul','Aug','Sep','Oct','Nov','Dec'][indexof([0,4,8,12,16,21,24,29,33,37,41,45], datum.value)]"}},
                "y": {"field": "price", "type": "quantitative", "scale": {"domain": [200, 450], "range": [253.7, 54.3], "nice": false, "zero": false}, "axis": {"title": null, "grid": true, "offset": -44.3, "labelPadding": 9.5, "values": [200,250,300,350,400,450]}},
                "color": {"field": "year", "type": "nominal", "scale": {"domain": ["2014","2015","2016","2017","2018","2019"], "range": ["#A9B7DD","#EE1C25","#C8C8C8","#404040","#A95A1C","#1F4A7E"]}, "legend": {"title": null, "orient": "none", "direction": "horizontal", "legendX": 36.3, "legendY": 279.3}},
                "strokeDash": {"field": "year", "type": "nominal", "scale": {"domain": ["2014","2015","2016","2017","2018","2019"], "range": [[1,0],[5,3],[16,7],[1,0],[10,8],[1,0]]}},
                "strokeWidth": {"field": "year", "type": "nominal", "scale": {"type": "ordinal", "domain": ["2014","2015","2016","2017","2018","2019"], "range": [3,3,3,1,3,4.5]}}
              }
            },
            {
              "width": 525, "height": 312,
              "title": {"text": "海南省海口市", "offset": -38.3, "dx": 3.5},
              "data": {"name": "prices"},
              "transform": [{"filter": "datum.city === 'hk'"}],
              "mark": {"type": "line"},
              "encoding": {
                "x": {"field": "wk", "type": "quantitative", "scale": {"domain": [-0.5, 49.5], "range": [46.3, 513.7], "nice": false, "zero": false}, "axis": {"title": null, "grid": false, "offset": -59.7, "labelPadding": 8, "values": [0,4,8,12,16,21,24,29,33,37,41,45], "labelExpr": "['Jan','Feb','Mar','Apr','May','Jun','Jul','Aug','Sep','Oct','Nov','Dec'][indexof([0,4,8,12,16,21,24,29,33,37,41,45], datum.value)]"}},
                "y": {"field": "price", "type": "quantitative", "scale": {"domain": [250, 500], "range": [252.3, 49], "nice": false, "zero": false}, "axis": {"title": null, "grid": true, "offset": -46.3, "labelPadding": 9.5, "values": [250,300,350,400,450,500]}},
                "color": {"field": "year", "type": "nominal", "scale": {"domain": ["2014","2015","2016","2017","2018","2019"], "range": ["#A9B7DD","#EE1C25","#C8C8C8","#404040","#A95A1C","#1F4A7E"]}, "legend": {"title": null, "orient": "none", "direction": "horizontal", "legendX": 38.7, "legendY": 278}},
                "strokeDash": {"field": "year", "type": "nominal", "scale": {"domain": ["2014","2015","2016","2017","2018","2019"], "range": [[1,0],[5,3],[16,7],[1,0],[10,8],[1,0]]}},
                "strokeWidth": {"field": "year", "type": "nominal", "scale": {"type": "ordinal", "domain": ["2014","2015","2016","2017","2018","2019"], "range": [3,3,3,1,3,4.5]}}
              }
            },
            {
              "width": 536, "height": 312,
              "title": {"text": "重庆", "offset": -38.3, "dx": -5},
              "data": {"name": "prices"},
              "transform": [{"filter": "datum.city === 'cq'"}],
              "mark": {"type": "line"},
              "encoding": {
                "x": {"field": "wk", "type": "quantitative", "scale": {"domain": [-0.5, 49.5], "range": [45, 505], "nice": false, "zero": false}, "axis": {"title": null, "grid": false, "offset": -58.7, "labelPadding": 8, "values": [0,4,8,12,16,21,24,29,33,37,41,45], "labelExpr": "['Jan','Feb','Mar','Apr','May','Jun','Jul','Aug','Sep','Oct','Nov','Dec'][indexof([0,4,8,12,16,21,24,29,33,37,41,45], datum.value)]"}},
                "y": {"field": "price", "type": "quantitative", "scale": {"domain": [200, 520], "range": [253.3, 49.3], "nice": false, "zero": false}, "axis": {"title": null, "grid": true, "offset": -45, "labelPadding": 9.5, "values": [200,240,280,320,360,400,440,480,520]}},
                "color": {"field": "year", "type": "nominal", "scale": {"domain": ["2014","2015","2016","2017","2018","2019"], "range": ["#A9B7DD","#EE1C25","#C8C8C8","#404040","#A95A1C","#1F4A7E"]}, "legend": {"title": null, "orient": "none", "direction": "horizontal", "legendX": 37.3, "legendY": 279}},
                "strokeDash": {"field": "year", "type": "nominal", "scale": {"domain": ["2014","2015","2016","2017","2018","2019"], "range": [[1,0],[5,3],[16,7],[1,0],[10,8],[1,0]]}},
                "strokeWidth": {"field": "year", "type": "nominal", "scale": {"type": "ordinal", "domain": ["2014","2015","2016","2017","2018","2019"], "range": [3,3,3,1,3,4.5]}}
              }
            },
            {
              "width": 525, "height": 316,
              "title": {"text": "四川成都", "offset": -37.7, "dx": 3.5},
              "data": {"name": "prices"},
              "transform": [{"filter": "datum.city === 'cd'"}],
              "mark": {"type": "line"},
              "encoding": {
                "x": {"field": "wk", "type": "quantitative", "scale": {"domain": [-0.5, 49.5], "range": [48, 514.7], "nice": false, "zero": false}, "axis": {"title": null, "grid": false, "offset": -66, "labelPadding": 8, "values": [0,4,8,12,16,21,24,29,33,37,41,45], "labelExpr": "['Jan','Feb','Mar','Apr','May','Jun','Jul','Aug','Sep','Oct','Nov','Dec'][indexof([0,4,8,12,16,21,24,29,33,37,41,45], datum.value)]"}},
                "y": {"field": "price", "type": "quantitative", "scale": {"domain": [200, 550], "range": [250, 47.3], "nice": false, "zero": false}, "axis": {"title": null, "grid": true, "offset": -48, "labelPadding": 9.5, "values": [200,250,300,350,400,450,500,550]}},
                "color": {"field": "year", "type": "nominal", "scale": {"domain": ["2014","2015","2016","2017","2018","2019"], "range": ["#A9B7DD","#EE1C25","#C8C8C8","#404040","#A95A1C","#1F4A7E"]}, "legend": {"title": null, "orient": "none", "direction": "horizontal", "legendX": 40.3, "legendY": 275.7}},
                "strokeDash": {"field": "year", "type": "nominal", "scale": {"domain": ["2014","2015","2016","2017","2018","2019"], "range": [[1,0],[5,3],[16,7],[1,0],[10,8],[1,0]]}},
                "strokeWidth": {"field": "year", "type": "nominal", "scale": {"type": "ordinal", "domain": ["2014","2015","2016","2017","2018","2019"], "range": [3,3,3,1,3,4.5]}}
              }
            },
            {
              "width": 536, "height": 316,
              "title": {"text": "贵州省贵阳市", "offset": -37, "dx": -1},
              "data": {"name": "prices"},
              "transform": [{"filter": "datum.city === 'gy'"}],
              "mark": {"type": "line"},
              "encoding": {
                "x": {"field": "wk", "type": "quantitative", "scale": {"domain": [-0.5, 49.5], "range": [45.7, 505], "nice": false, "zero": false}, "axis": {"title": null, "grid": false, "offset": -65.3, "labelPadding": 8, "values": [0,4,8,12,16,21,24,29,33,37,41,45], "labelExpr": "['Jan','Feb','Mar','Apr','May','Jun','Jul','Aug','Sep','Oct','Nov','Dec'][indexof([0,4,8,12,16,21,24,29,33,37,41,45], datum.value)]"}},
                "y": {"field": "price", "type": "quantitative", "scale": {"domain": [200, 440], "range": [250.7, 47.3], "nice": false, "zero": false}, "axis": {"title": null, "grid": true, "offset": -45.7, "labelPadding": 9.5, "values": [200,240,280,320,360,400,440]}},
                "color": {"field": "year", "type": "nominal", "scale": {"domain": ["2014","2015","2016","2017","2018","2019"], "range": ["#A9B7DD","#EE1C25","#C8C8C8","#404040","#A95A1C","#1F4A7E"]}, "legend": {"title": null, "orient": "none", "direction": "horizontal", "legendX": 37.3, "legendY": 276.7}},
                "strokeDash": {"field": "year", "type": "nominal", "scale": {"domain": ["2014","2015","2016","2017","2018","2019"], "range": [[1,0],[5,3],[16,7],[1,0],[10,8],[1,0]]}},
                "strokeWidth": {"field": "year", "type": "nominal", "scale": {"type": "ordinal", "domain": ["2014","2015","2016","2017","2018","2019"], "range": [3,3,3,1,3,4.5]}}
              }
            }
          ]
        },
        {
          "width": 1061, "height": 49,
          "view": {"stroke": "#000000"},
          "title": {"text": "来源：数字水泥网，中国银河国际证券研究部", "orient": "bottom", "anchor": "end", "offset": -19, "dx": -11, "color": "#A0A0A0", "fontSize": 11.5, "fontWeight": "normal", "font": "Noto Sans CJK SC"},
          "data": {"values": [{}]},
          "mark": {"type": "text"},
          "encoding": {"text": {"value": ""}}
        }
      ]
    }
  ]
}
